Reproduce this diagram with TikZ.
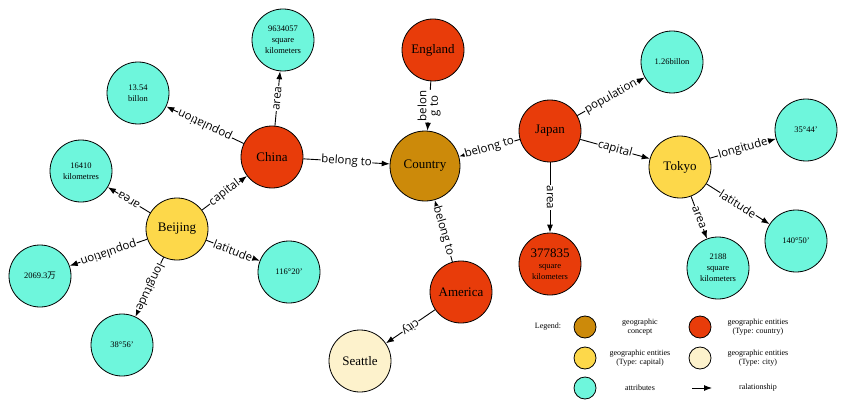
\documentclass[tikz,border=0pt]{standalone}
\usepackage{fontspec}
\setmainfont{Liberation Serif}
\newfontfamily\lblfont{Open Sans}
\newfontfamily\cjk{Noto Sans CJK SC}
\usetikzlibrary{arrows.meta}
\definecolor{ctry}{HTML}{E83C0A}
\definecolor{conc}{HTML}{CC8A0A}
\definecolor{capc}{HTML}{FDD84A}
\definecolor{city}{HTML}{FDF2CC}
\definecolor{attr}{HTML}{6EF6DC}
\begin{document}
\begin{tikzpicture}[x=1pt,y=-1pt,
  ent/.style={circle,draw=black,line width=0.8pt,minimum size=62pt,inner sep=0pt,align=center,font=\fontsize{13}{14}\selectfont},
  country/.style={ent,fill=ctry},
  concept/.style={ent,fill=conc,minimum size=70pt},
  capital/.style={ent,fill=capc},
  cityn/.style={ent,fill=city},
  att/.style={ent,fill=attr,font=\fontsize{8.5}{11}\selectfont},
  rel/.style={-{Latex[length=8pt,width=6pt]},line width=0.9pt},
  lab/.style={sloped,allow upside down,fill=white,inner sep=0.5pt,font=\lblfont\fontsize{11.5}{11.5}\selectfont},
  lg/.style={circle,draw=black,line width=0.8pt,minimum size=22pt,inner sep=0pt},
  lt/.style={font=\fontsize{8}{9.5}\selectfont,align=center}]
\useasboundingbox (0,0) rectangle (850,409);
\node[country] (china) at (272,157) {China};
\node[att] (a1) at (283,40) {9634057\\square\\kilometers};
\node[att] (a2) at (138,93) {13.54\\billon};
\node[att] (a3) at (81,171) {16410\\kilometres};
\node[capital] (beijing) at (177,229) {Beijing};
\node[att] (a4) at (40,276) {2069.3{\cjk 万}};
\node[att] (a5) at (122,345) {38°56'};
\node[att] (a6) at (289,272) {116°20'};
\node[cityn] (seattle) at (360,361) {Seattle};
\node[concept] (country) at (425,166) {Country};
\node[country] (england) at (433,50) {England};
\node[country] (america) at (461,292) {America};
\node[country] (japan) at (550,131) {Japan};
\node[att] (a7) at (672,62) {1.26billon};
\node[country,font=\fontsize{8.5}{11}\selectfont] (a8) at (550,264) {{\fontsize{13}{14}\selectfont 377835}\\square\\kilometers};
\node[capital] (tokyo) at (680,167) {Tokyo};
\node[att] (a9) at (806,130) {35°44'};
\node[att] (a10) at (796,241) {140°50'};
\node[att] (a11) at (718,268) {2188\\square\\kilometers};

\draw[rel] (china) -- node[lab]{area} (a1);
\draw[rel] (china) -- node[lab]{population} (a2);
\draw[rel] (china) -- node[lab]{belong to} (country);
\draw[rel] (beijing) -- node[lab]{capital} (china);
\draw[rel] (beijing) -- node[lab]{area} (a3);
\draw[rel] (beijing) -- node[lab]{population} (a4);
\draw[rel] (beijing) -- node[lab]{longitude} (a5);
\draw[rel] (beijing) -- node[lab]{latitude} (a6);
\draw[rel] (england) -- node[fill=white,inner sep=0.5pt,rotate=90,align=center,font=\lblfont\fontsize{11.5}{11.5}\selectfont]{belon\\g to} (country);
\draw[rel] (america) -- node[lab,rotate=180]{belong to} (country);
\draw[rel] (america) -- node[lab]{city} (seattle);
\draw[rel] (japan) -- node[lab,rotate=180]{belong to} (country);
\draw[rel] (japan) -- node[lab]{population} (a7);
\draw[rel] (japan) -- node[lab]{area} (a8);
\draw[rel] (japan) -- node[lab]{capital} (tokyo);
\draw[rel] (tokyo) -- node[lab]{longitude} (a9);
\draw[rel] (tokyo) -- node[lab]{latitude} (a10);
\draw[rel] (tokyo) -- node[lab]{area} (a11);

\node[lt] (lgt) at (548,327) {Legend:};
\node[lg,fill=conc] (l1) at (585,327) {};
\node[lt] (l1t) at (640,327) {geographic\\concept};
\node[lg,fill=ctry] (l2) at (700,327) {};
\node[lt] (l2t) at (758,327) {geographic entities\\(Type: country)};
\node[lg,fill=capc] (l3) at (585,358) {};
\node[lt] (l3t) at (640,358) {geographic entities\\(Type: capital)};
\node[lg,fill=city] (l4) at (700,358) {};
\node[lt] (l4t) at (758,358) {geographic entities\\(Type: city)};
\node[lg,fill=attr] (l5) at (585,388) {};
\node[lt] (l5t) at (640,388) {attributes};
\coordinate (r1) at (692,388);
\coordinate (r2) at (712,388);
\draw[rel] (r1) -- (r2);
\node[lt] (l6t) at (758,388) {ralationship};
\end{tikzpicture}
\end{document}
